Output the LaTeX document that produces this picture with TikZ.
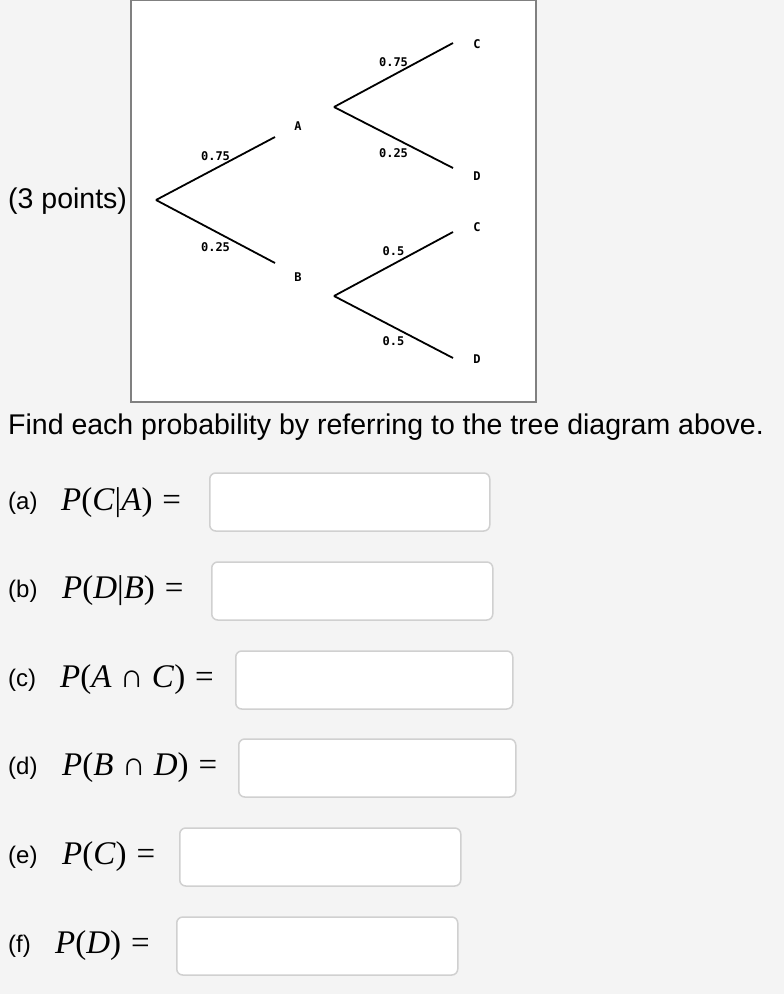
\documentclass[tikz,border=0pt]{standalone}
\usepackage{fontspec}
\setmainfont{Liberation Sans}
\newfontfamily\treefont{DejaVu Sans Mono}
\newfontfamily\formfont{Liberation Serif}
\definecolor{pagebg}{HTML}{F4F4F4}
\definecolor{boxline}{HTML}{D0D0D0}
\definecolor{panelline}{HTML}{808080}
\begin{document}
\begin{tikzpicture}[
                    x=1pt, y=-1pt,
                    branch/.style={line width=1.8pt},
                    prob/.style={font=\treefont\bfseries\fontsize{12}{12}\selectfont, inner sep=1pt},
                    event/.style={font=\treefont\bfseries\fontsize{12}{12}\selectfont, inner sep=1pt},
                    part/.style={anchor=west, inner sep=0pt, font=\fontsize{24}{28}\selectfont},
                    formula/.style={anchor=west, inner sep=0pt, font=\formfont\fontsize{33}{38}\selectfont},
                    answer/.style={draw=boxline, line width=1.5pt, fill=white, rounded corners=6pt,
                                   minimum height=58pt, anchor=west}
                ]
                % Page
                \fill [pagebg] (0,0) rectangle (784,994);
                \useasboundingbox (0,0) rectangle (784,994);
                \draw [panelline, line width=1.5pt, fill=white] (131,0) rectangle (536,402);

                % Tree
                \coordinate (root) at (156,200);
                \coordinate (a0) at (275,137);
                \node [event] (A) at (298,126) {A};
                \coordinate (a1) at (334,107);
                \coordinate (ac) at (453,43);
                \node [event] (AC) at (477,44) {C};
                \coordinate (ad) at (453,168);
                \node [event] (AD) at (477,176) {D};
                \coordinate (b0) at (275,263);
                \node [event] (B) at (298,277) {B};
                \coordinate (b1) at (334,296);
                \coordinate (bc) at (453,232);
                \node [event] (BC) at (477,227) {C};
                \coordinate (bd) at (453,358);
                \node [event] (BD) at (477,359) {D};

                % Branches
                \draw [branch] (root) --node[prob, above=6pt]{0.75} (a0);
                \draw [branch] (root) --node[prob, below=9pt]{0.25} (b0);
                \draw [branch] (a1) --node[prob, above=6pt]{0.75} (ac);
                \draw [branch] (a1) --node[prob, below=9pt]{0.25} (ad);
                \draw [branch] (b1) --node[prob, above=6pt]{0.5} (bc);
                \draw [branch] (b1) --node[prob, below=8pt]{0.5} (bd);

                % Text
                \node [anchor=west, inner sep=0pt, font=\fontsize{28.5}{33}\selectfont] (points) at (8,201) {(3 points)};
                \node [anchor=west, inner sep=0pt, font=\fontsize{28.5}{33}\selectfont] (task) at (8,427)
                    {Find each probability by referring to the tree diagram above.};

                % Questions
                \node [part] (pa) at (8,503) {(a)};
                \node [formula] (fa) at (61,503) {\textit{P}(\textit{C}|\textit{A})\hspace{0.3em}=};
                \node [answer, minimum width=280pt] (ansa) at (209,502) {};

                \node [part] (pb) at (8,591) {(b)};
                \node [formula] (fb) at (62,591) {\textit{P}(\textit{D}|\textit{B})\hspace{0.3em}=};
                \node [answer, minimum width=281pt] (ansb) at (211,591) {};

                \node [part] (pc) at (8,680) {(c)};
                \node [formula] (fc) at (60,680) {\textit{P}(\textit{A} ∩ \textit{C})\hspace{0.3em}=};
                \node [answer, minimum width=277pt] (ansc) at (235,680) {};

                \node [part] (pd) at (8,768) {(d)};
                \node [formula] (fd) at (62,768) {\textit{P}(\textit{B} ∩ \textit{D})\hspace{0.3em}=};
                \node [answer, minimum width=277pt] (ansd) at (238,768) {};

                \node [part] (pe) at (8,857) {(e)};
                \node [formula] (fe) at (62,857) {\textit{P}(\textit{C})\hspace{0.3em}=};
                \node [answer, minimum width=281pt] (anse) at (179,857) {};

                \node [part] (pf) at (8,946) {(f)};
                \node [formula] (ff) at (55,946) {\textit{P}(\textit{D})\hspace{0.3em}=};
                \node [answer, minimum width=281pt] (ansf) at (176,946) {};
            \end{tikzpicture}
\end{document}
